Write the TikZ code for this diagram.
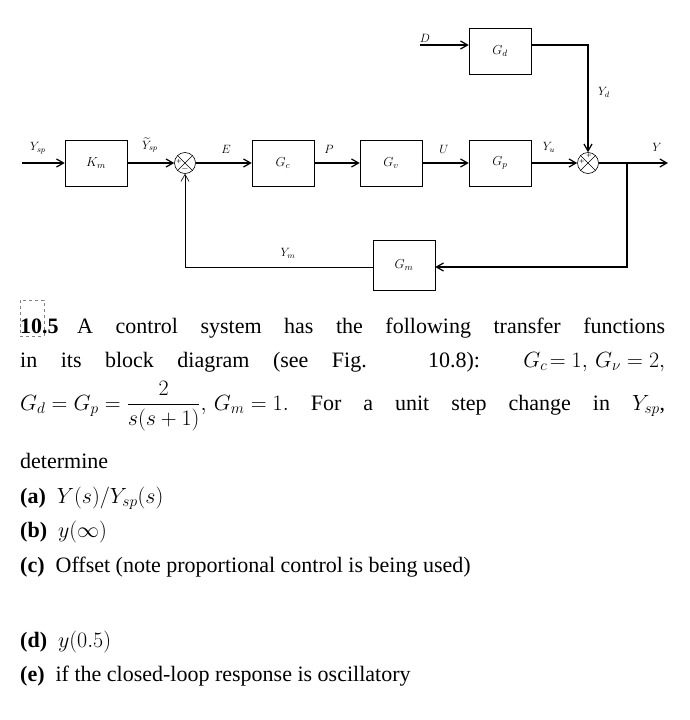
\RequirePackage{fix-cm}
\documentclass[tikz,border=0pt]{standalone}
\usepackage{amsmath}
\usepackage{fontspec}
\setmainfont{Liberation Serif}
\usetikzlibrary{arrows.meta}
\begin{document}
\thickmuskip=5mu\medmuskip=4mu
\begin{tikzpicture}[x=1pt,y=-1pt,
 blk/.style={draw,line width=0.6pt,minimum width=62pt,minimum height=46pt,font=\fontsize{13}{15}\selectfont},
 sum/.style={draw,circle,line width=0.6pt,minimum size=21pt,inner sep=0pt},
 sig/.style={line width=1.2pt,-{Straight Barb[length=7pt,width=8pt]}},
 lab/.style={font=\fontsize{12}{14}\selectfont},
 txt/.style={anchor=base west,inner sep=0pt,font=\fontsize{22}{26}\selectfont}]
\useasboundingbox (0,0) rectangle (690,720);
\node[blk] (km) at (96,163) {$K_m$};
\node[sum] (s1) at (185,163) {};
\node[blk] (gc) at (283,163) {$G_c$};
\node[blk] (gv) at (391,163) {$G_v$};
\node[blk] (gp) at (500,163) {$G_p$};
\node[blk] (gd) at (500,51) {$G_d$};
\node[sum] (s2) at (588,163) {};
\node[blk,minimum height=50pt] (gm) at (404,265) {$G_m$};
\foreach \s in {s1,s2}{\draw[line width=0.6pt] (\s.north west)--(\s.south east) (\s.north east)--(\s.south west);}
\node[font=\fontsize{9}{9}\selectfont,inner sep=0pt] at (179,162) {+};
\node[font=\fontsize{9}{9}\selectfont,inner sep=0pt] at (185,169) {$-$};
\node[font=\fontsize{9}{9}\selectfont,inner sep=0pt] at (589,156) {+};
\node[font=\fontsize{9}{9}\selectfont,inner sep=0pt] at (582,162) {+};
\coordinate (in) at (22,163);
\coordinate (din) at (420,45);
\coordinate (out) at (668,163);
\coordinate (br) at (627,163);
\draw[sig] (in) -- (km);
\draw[sig] (km) -- (s1);
\draw[sig] (s1) -- (gc);
\draw[sig] (gc) -- (gv);
\draw[sig] (gv) -- (gp);
\draw[sig] (gp) -- (s2);
\draw[sig] (s2) -- (out);
\draw[sig] (din) -- (din -| gd.west);
\draw[sig] (gd.east |- 0,45) -| (s2);
\draw[sig] (br) |- (gm.east |- 0,267);
\draw[line width=0.6pt,-{Straight Barb[length=7pt,width=8pt]}] (gm.west |- 0,267) -| (s1);
\node[lab] at (38,148) {$Y_{sp}$};
\node[lab] at (150,145) {$\widetilde Y_{sp}$};
\node[lab] at (226,149) {$E$};
\node[lab] at (329,149) {$P$};
\node[lab] at (444,149) {$U$};
\node[lab] at (549,147) {$Y_u$};
\node[lab] at (657,147) {$Y$};
\node[lab] at (425,38) {$D$};
\node[lab] at (604,92) {$Y_d$};
\node[lab] at (288,253) {$Y_m$};
\node[draw,dashed,gray,line width=0.4pt,minimum width=24pt,minimum height=36pt,inner sep=0pt] (bx) at (32,318) {};
\node[txt] at (20,333) {\makebox[645pt][s]{\textbf{10.5}\hspace{-4pt} A control system has the following transfer functions}};
\node[txt] at (20,367) {\makebox[645pt][s]{in its block diagram (see Fig. 10.8): $G_c\!=1,\,G_\nu=2,$}};
\node[txt] at (20,410) {\makebox[645pt][s]{$G_d=G_p=\dfrac{2}{s(s+1)},\,G_m=1.$ For a unit step change in $Y_{sp}$,}};
\node[txt] at (20,468) {determine};
\node[txt] at (20,503) {\textbf{(a)}\ \ $Y(s)/Y_{sp}(s)$};
\node[txt] at (20,537) {\textbf{(b)}\ \ $y(\infty)$};
\node[txt] at (20,572) {\textbf{(c)}\ \ Offset (note proportional control is being used)};
\node[txt] at (20,647) {\textbf{(d)}\ \ $y(0.5)$};
\node[txt] at (20,681) {\textbf{(e)}\ \ if the closed-loop response is oscillatory};
\end{tikzpicture}
\end{document}
